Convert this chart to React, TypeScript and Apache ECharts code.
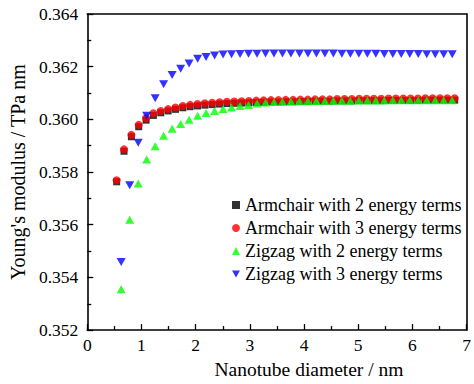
import React, { useEffect, useRef } from "react";
import * as echarts from "echarts";

const seriesNames = [
  "Armchair with 2 energy terms",
  "Armchair with 3 energy terms",
  "Zigzag with 2 energy terms",
  "Zigzag with 3 energy terms",
];

const armchairDiameter = [
  0.542, 0.678, 0.814, 0.949, 1.085, 1.22, 1.356, 1.492, 1.627, 1.763, 1.898, 2.034,
  2.17, 2.305, 2.441, 2.576, 2.712, 2.848, 2.983, 3.119, 3.254, 3.39, 3.526, 3.661,
  3.797, 3.932, 4.068, 4.204, 4.339, 4.475, 4.61, 4.746, 4.882, 5.017, 5.153, 5.288,
  5.424, 5.56, 5.695, 5.831, 5.966, 6.102, 6.238, 6.373, 6.509, 6.644, 6.78,
];

const armchair2 = [
  0.35763, 0.35879, 0.35934, 0.35972, 0.35997, 0.36015, 0.36025, 0.36032, 0.36038,
  0.36044, 0.36048, 0.36051, 0.36054, 0.36056, 0.36058, 0.3606, 0.36061, 0.36062,
  0.36063, 0.36064, 0.36065, 0.36066, 0.36066, 0.36067, 0.36067, 0.36068, 0.36068,
  0.36069, 0.36069, 0.36069, 0.3607, 0.3607, 0.3607, 0.36071, 0.36071, 0.36071,
  0.36071, 0.36072, 0.36072, 0.36072, 0.36072, 0.36072, 0.36073, 0.36073, 0.36073,
  0.36073, 0.36073,
];

const armchair3 = [
  0.35769, 0.35886, 0.35941, 0.35979, 0.36004, 0.36023, 0.36032, 0.36039, 0.36045,
  0.36051, 0.36055, 0.36058, 0.36061, 0.36063, 0.36065, 0.36067, 0.36068, 0.36069,
  0.3607, 0.36071, 0.36072, 0.36073, 0.36073, 0.36074, 0.36074, 0.36075, 0.36075,
  0.36076, 0.36076, 0.36076, 0.36077, 0.36077, 0.36077, 0.36078, 0.36078, 0.36078,
  0.36078, 0.36079, 0.36079, 0.36079, 0.36079, 0.36079, 0.3608, 0.3608, 0.3608,
  0.3608, 0.3608,
];

const zigzagDiameter = [
  0.626, 0.783, 0.94, 1.096, 1.253, 1.409, 1.566, 1.723, 1.879, 2.036, 2.192, 2.349,
  2.506, 2.662, 2.819, 2.975, 3.132, 3.289, 3.445, 3.602, 3.758, 3.915, 4.072, 4.228,
  4.385, 4.541, 4.698, 4.855, 5.011, 5.168, 5.324, 5.481, 5.638, 5.794, 5.951, 6.107,
  6.264, 6.421, 6.577, 6.734,
];

const zigzag2 = [
  0.35355, 0.35619, 0.35757, 0.35848, 0.35898, 0.35938, 0.35964, 0.35982, 0.35999,
  0.36014, 0.36024, 0.36032, 0.36039, 0.36045, 0.36051, 0.36055, 0.3606, 0.36064,
  0.36066, 0.36067, 0.36068, 0.36069, 0.36069, 0.3607, 0.3607, 0.36071, 0.36071,
  0.36071, 0.36072, 0.36072, 0.36072, 0.36072, 0.36073, 0.36073, 0.36073, 0.36073,
  0.36073, 0.36073, 0.36073, 0.36073,
];

const zigzag3 = [
  0.35459, 0.3575, 0.35911, 0.36014, 0.3608, 0.36133, 0.36168, 0.36192, 0.36212,
  0.3623, 0.36237, 0.36242, 0.36246, 0.36247, 0.36248, 0.36249, 0.36249, 0.3625,
  0.3625, 0.3625, 0.3625, 0.3625, 0.3625, 0.3625, 0.3625, 0.3625, 0.36249, 0.36249,
  0.36249, 0.36249, 0.36249, 0.36248, 0.36248, 0.36248, 0.36248, 0.36248, 0.36247,
  0.36247, 0.36247, 0.36247,
];

const xTicks = [0, 1, 2, 3, 4, 5, 6, 7];
const yTicks = [0.352, 0.354, 0.356, 0.358, 0.36, 0.362, 0.364];

const FONT = "'Liberation Serif', 'Times New Roman', serif";

const pair = (xs: number[], ys: number[]) => xs.map((x, i) => [x, ys[i]]);

export default function App() {
  const ref = useRef<HTMLDivElement>(null);
  useEffect(() => {
    if (!ref.current) return;
    const chart = echarts.init(ref.current, undefined, { renderer: "svg" });
    const downTri = "path://M0,0L10,0L5,8.66Z";
    const axisLine = { show: true, onZero: false, lineStyle: { color: "#000", width: 1.6 } };
    chart.setOption({
      animation: false,
      backgroundColor: "#fff",
      grid: { left: 83, right: 6, top: 14, bottom: 51, show: false },
      legend: {
        orient: "vertical",
        left: 227,
        top: 191,
        itemWidth: 8,
        itemHeight: 8,
        itemGap: 5,
        textStyle: { fontFamily: FONT, fontSize: 18, color: "#000" },
        data: seriesNames,
      },
      xAxis: [
        {
          type: "value",
          min: xTicks[0],
          max: xTicks[xTicks.length - 1],
          interval: 1,
          name: "Nanotube diameter / nm",
          nameLocation: "middle",
          nameGap: 28,
          nameTextStyle: { fontFamily: FONT, fontSize: 19.5, color: "#000", padding: [0, 0, 0, 64] },
          axisLine,
          axisTick: { show: true, inside: true, length: 6, lineStyle: { color: "#000", width: 1.3 } },
          minorTick: { show: true, splitNumber: 2, length: 4, lineStyle: { color: "#000", width: 1.3 } },
          axisLabel: { fontFamily: FONT, fontSize: 17.5, color: "#000", margin: 6 },
          splitLine: { show: false },
        },
        {
          type: "value",
          position: "top",
          min: xTicks[0],
          max: xTicks[xTicks.length - 1],
          axisLine,
          axisTick: { show: false },
          axisLabel: { show: false },
          splitLine: { show: false },
        },
      ],
      yAxis: [
        {
          type: "value",
          min: yTicks[0],
          max: yTicks[yTicks.length - 1],
          interval: 0.002,
          name: "Young's modulus / TPa nm",
          nameLocation: "middle",
          nameGap: 59,
          nameTextStyle: { fontFamily: FONT, fontSize: 20, color: "#000" },
          axisLine,
          axisTick: { show: true, inside: true, length: 6, lineStyle: { color: "#000", width: 1.3 } },
          minorTick: { show: true, splitNumber: 2, length: 4, lineStyle: { color: "#000", width: 1.3 } },
          axisLabel: {
            fontFamily: FONT,
            fontSize: 17.5,
            color: "#000",
            margin: 9,
            formatter: (v: number) => v.toFixed(3),
          },
          splitLine: { show: false },
        },
        {
          type: "value",
          position: "right",
          min: yTicks[0],
          max: yTicks[yTicks.length - 1],
          axisLine,
          axisTick: { show: false },
          axisLabel: { show: false },
          splitLine: { show: false },
        },
      ],
      series: [
        {
          name: seriesNames[0],
          type: "scatter",
          symbol: "rect",
          symbolSize: 7,
          itemStyle: { color: "#000000" },
          data: pair(armchairDiameter, armchair2),
        },
        {
          name: seriesNames[1],
          type: "scatter",
          symbol: "circle",
          symbolSize: 8,
          itemStyle: { color: "#ff0000" },
          data: pair(armchairDiameter, armchair3),
        },
        {
          name: seriesNames[2],
          type: "scatter",
          symbol: "triangle",
          symbolSize: [9, 8],
          itemStyle: { color: "#00ff00" },
          data: pair(zigzagDiameter, zigzag2),
        },
        {
          name: seriesNames[3],
          type: "scatter",
          symbol: downTri,
          symbolSize: [9, 8],
          itemStyle: { color: "#0000ff" },
          data: pair(zigzagDiameter, zigzag3),
        },
      ],
    });
    return () => chart.dispose();
  }, []);
  return (
    <div
      ref={ref}
      style={{ position: "fixed", left: 0, top: 0, width: 474, height: 384 }}
    />
  );
}
